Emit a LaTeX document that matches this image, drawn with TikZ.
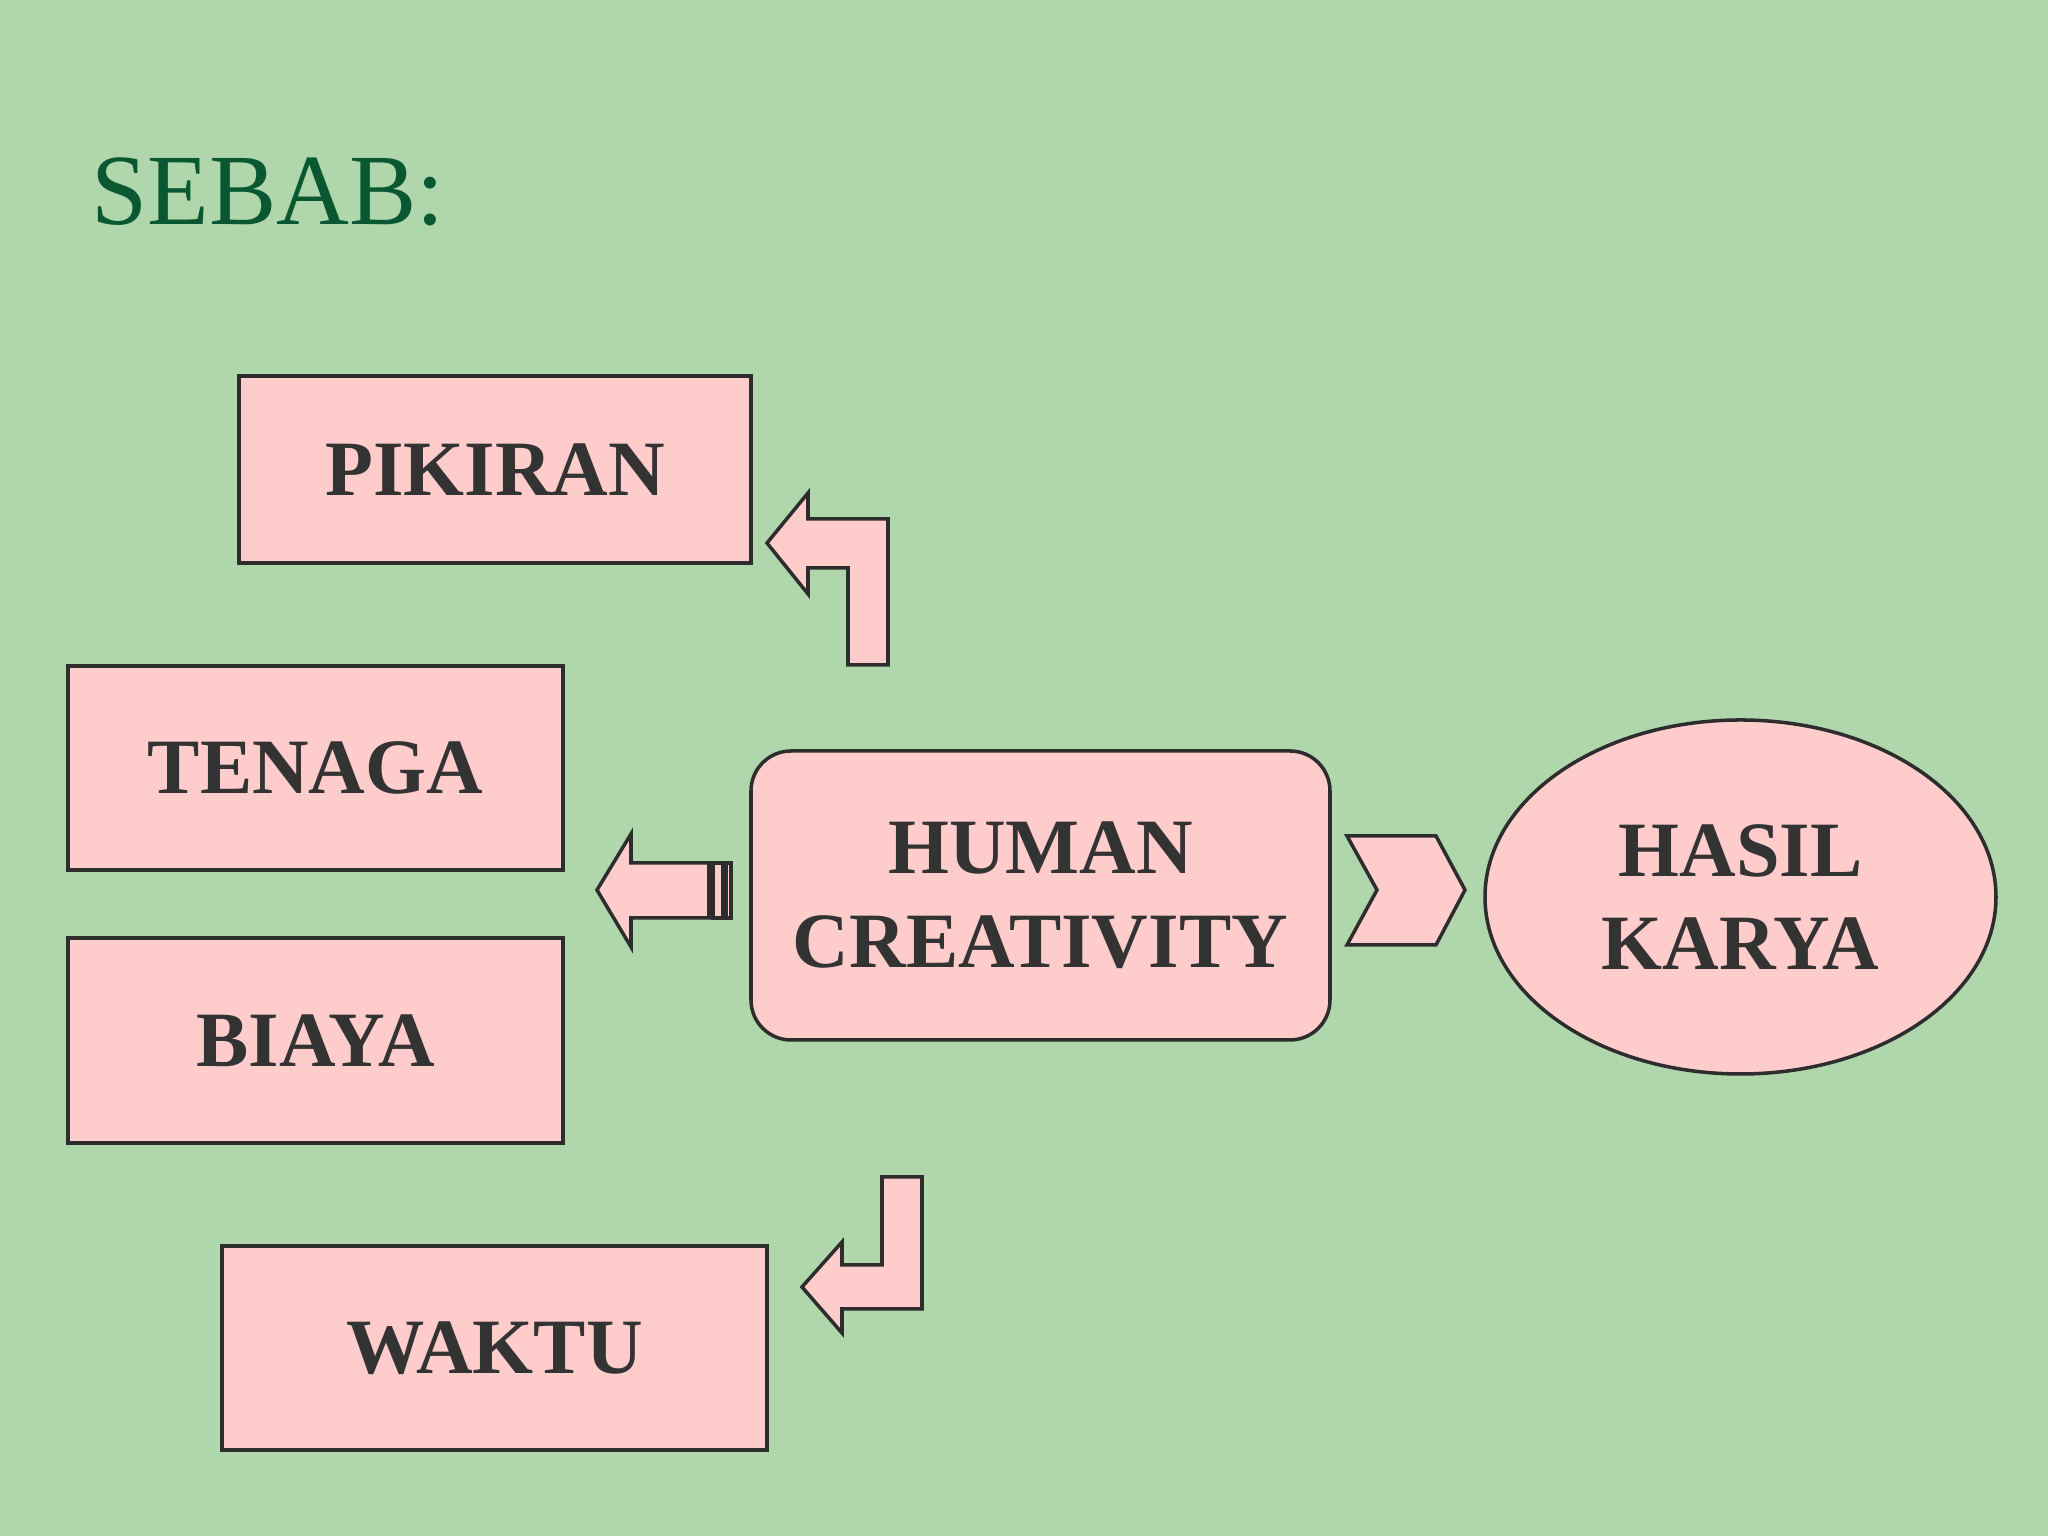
\documentclass[tikz,border=0pt]{standalone}
\usepackage{fontspec}
\setmainfont{Liberation Serif}
\usetikzlibrary{shapes.geometric}
\definecolor{bggreen}{RGB}{176,214,172}
\definecolor{boxpink}{RGB}{255,204,204}
\definecolor{edgegray}{RGB}{45,45,45}
\definecolor{textgray}{RGB}{51,51,51}
\definecolor{titlegreen}{RGB}{10,88,50}
\begin{document}
\begin{tikzpicture}[
  box/.style={draw=edgegray, fill=boxpink, line width=1pt, text=textgray,
    font=\fontsize{22.3}{26.7}\selectfont\bfseries, align=center, inner sep=0pt},
  blockarrow/.style={draw=edgegray, fill=boxpink, line width=1pt, line join=miter}
]
% background
\fill[bggreen] (0,0) rectangle (20.48,15.36);
\useasboundingbox (0,0) rectangle (20.48,15.36);

\node[anchor=base west, inner sep=0pt, text=titlegreen, font=\fontsize{28.7}{32}\selectfont] (sebab) at (0.91,13.11) {SEBAB:};

% boxes
\node[box, minimum width=5.12cm, minimum height=1.87cm] (pikiran) at (4.95,10.665) {PIKIRAN};
\node[box, minimum width=4.95cm, minimum height=2.04cm] (tenaga) at (3.155,7.68) {TENAGA};
\node[box, minimum width=4.95cm, minimum height=2.05cm] (biaya) at (3.155,4.955) {BIAYA};
\node[box, minimum width=5.45cm, minimum height=2.04cm] (waktu) at (4.945,1.88) {WAKTU};
\node[box, rounded corners=0.4cm, minimum width=5.79cm, minimum height=2.89cm] (human) at (10.405,6.405) {HUMAN\\CREATIVITY};
\node[box, ellipse, minimum width=5.11cm, minimum height=3.54cm] (hasil) at (17.405,6.39) {HASIL\\KARYA};

% block arrows
\path[blockarrow] (7.67,9.93) -- (8.08,10.43) -- (8.08,10.17) -- (8.88,10.17) -- (8.88,8.71)
  -- (8.48,8.71) -- (8.48,9.68) -- (8.08,9.68) -- (8.08,9.42) -- cycle;
\path[blockarrow] (5.97,6.46) -- (6.31,7.02) -- (6.31,6.73) -- (7.09,6.73) -- (7.09,6.18)
  -- (6.31,6.18) -- (6.31,5.89) -- cycle;
\path[blockarrow] (7.13,6.18) rectangle (7.23,6.73);
\path[blockarrow] (7.26,6.18) rectangle (7.31,6.73);
\path[blockarrow] (13.47,7.00) -- (14.36,7.00) -- (14.65,6.46) -- (14.36,5.91) -- (13.47,5.91)
  -- (13.77,6.46) -- cycle;
\path[blockarrow] (8.02,2.49) -- (8.42,2.94) -- (8.42,2.71) -- (8.82,2.71) -- (8.82,3.59)
  -- (9.22,3.59) -- (9.22,2.27) -- (8.42,2.27) -- (8.42,2.03) -- cycle;
\end{tikzpicture}
\end{document}
